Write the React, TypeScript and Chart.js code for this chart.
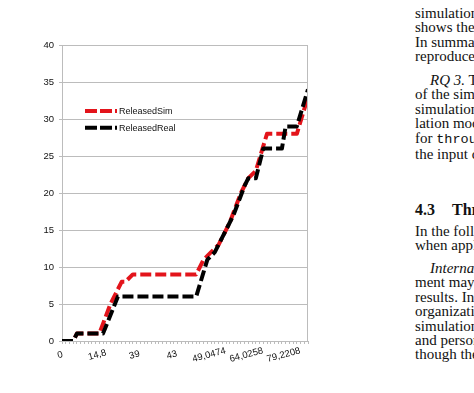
import React, { useEffect, useRef } from "react";
import { Chart, registerables } from "chart.js";

Chart.register(...registerables);

// ---- data ----
const xTickLabels = ["0", "14,8", "39", "43", "49,0474", "64,0258", "79,2208"];
const labelEvery = 10; // one label every 10 categories
const lastCategory = 66; // categories 0..66
const yMin = 0;
const yMax = 40;
const yStep = 5;

const simLabel = "ReleasedSim";
const simX = [0, 3, 4, 10, 13, 16, 17, 19, 36, 38, 40, 42, 45, 48, 50, 52, 55, 63, 66];
const simY = [0, 0, 1, 1, 5, 8, 8, 9, 9, 11, 12, 13, 16, 20, 22, 23, 28, 28, 33];

const realLabel = "ReleasedReal";
const realX = [0, 3, 4, 11, 15, 36, 39, 41, 43, 46, 49, 50, 52, 54, 59, 60, 63, 66];
const realY = [0, 0, 1, 1, 6, 6, 11, 12, 14, 17, 21, 22, 22, 26, 26, 29, 29, 34];

const textBlock1 = ["simulation results", "shows the same", "In summary,", "reproduce the"];
const textBlock2Rest = ["of the simulation", "simulation model", "lation model", "the input data"];
const textBlock3 = ["In the following", "when applying"];
const textBlock4Rest = ["ment may", "results. In", "organization", "simulation", "and personal", "though the"];

const RED = "#e3141b";
const BLACK = "#000000";
const GRID = "#bcbcbc";

const toPoints = (xs: number[], ys: number[]) => xs.map((x, i) => ({ x, y: ys[i] }));

const overlayPlugin = {
  id: "overlay",
  afterDraw(chart: any) {
    const { ctx, chartArea, scales } = chart;
    ctx.save();
    // right border of plot area
    ctx.strokeStyle = GRID;
    ctx.lineWidth = 1;
    ctx.setLineDash([]);
    const rx = Math.round(chartArea.right) - 0.5;
    ctx.beginPath();
    ctx.moveTo(rx, chartArea.top);
    ctx.lineTo(rx, chartArea.bottom);
    ctx.stroke();

    // slanted x labels, centred on their category
    ctx.fillStyle = "#111";
    ctx.font = "9.5px 'Liberation Sans', Arial, sans-serif";
    ctx.textAlign = "center";
    ctx.textBaseline = "middle";
    xTickLabels.forEach((lab, i) => {
      const px = scales.x.getPixelForValue(i * labelEvery);
      ctx.save();
      ctx.translate(px - 2, chartArea.bottom + 14);
      ctx.rotate((-15 * Math.PI) / 180);
      ctx.fillText(lab, 0, 0);
      ctx.restore();
    });

    // legend inside plot area
    const datasets = chart.data.datasets;
    datasets.forEach((ds: any, i: number) => {
      const y = chartArea.top + 66 + i * 16.7;
      const x0 = chartArea.left + 23;
      ctx.strokeStyle = ds.borderColor;
      ctx.lineWidth = 4;
      ctx.lineCap = "butt";
      ctx.setLineDash([12, 3]);
      ctx.beginPath();
      ctx.moveTo(x0, y);
      ctx.lineTo(x0 + 32, y);
      ctx.stroke();
      ctx.setLineDash([]);
      ctx.fillStyle = "#111";
      ctx.font = "9px 'Liberation Sans', Arial, sans-serif";
      ctx.textAlign = "left";
      ctx.textBaseline = "middle";
      ctx.fillText(ds.label, x0 + 34, y + 0.5);
    });
    ctx.restore();
  },
};

function ChartView() {
  const ref = useRef<HTMLCanvasElement | null>(null);
  useEffect(() => {
    if (!ref.current) return;
    const chart = new Chart(ref.current, {
      type: "line",
      data: {
        datasets: [
          {
            label: simLabel,
            data: toPoints(simX, simY),
            borderColor: RED,
            backgroundColor: RED,
            borderWidth: 4,
            borderDash: [11, 4],
            borderCapStyle: "butt",
            borderJoinStyle: "round",
            pointRadius: 0,
            tension: 0,
            fill: false,
            order: 1,
          },
          {
            label: realLabel,
            data: toPoints(realX, realY),
            borderColor: BLACK,
            backgroundColor: BLACK,
            borderWidth: 4,
            borderDash: [11, 4],
            borderCapStyle: "butt",
            borderJoinStyle: "round",
            pointRadius: 0,
            tension: 0,
            fill: false,
            order: 0,
          },
        ],
      },
      options: {
        animation: false,
        responsive: false,
        devicePixelRatio: 1,
        layout: { padding: { top: 45, right: 12, left: 0, bottom: 0 } },
        plugins: { legend: { display: false }, tooltip: { enabled: false } },
        scales: {
          x: {
            type: "linear",
            min: 0,
            max: lastCategory,
            afterFit: (s: any) => {
              s.height = 52;
            },
            ticks: { stepSize: 1, autoSkip: false, display: false },
            grid: { drawOnChartArea: false, drawTicks: true, tickLength: 3, color: GRID },
            border: { display: true, color: GRID, width: 1 },
          },
          y: {
            min: yMin,
            max: yMax,
            afterFit: (s: any) => {
              s.width = 62;
            },
            ticks: {
              stepSize: yStep,
              color: "#111",
              padding: 5,
              font: { family: "'Liberation Sans', Arial, sans-serif", size: 9.5 },
            },
            grid: { color: GRID, tickLength: 3, drawTicks: true },
            border: { display: true, color: GRID, width: 1 },
          },
        },
      },
      plugins: [overlayPlugin],
    } as any);
    return () => chart.destroy();
  }, []);
  return (
    <canvas
      ref={ref}
      width={320}
      height={393}
      style={{ position: "absolute", left: 0, top: 0, width: 320, height: 393 }}
    />
  );
}

const serif: React.CSSProperties = {
  fontFamily: "'Liberation Serif', 'Times New Roman', serif",
  fontSize: 15,
  lineHeight: "14.4px",
  color: "#111",
  whiteSpace: "nowrap",
};

export default function App() {
  return (
    <div style={{ position: "relative", width: 474, height: 393, overflow: "hidden", background: "#fff" }}>
      <style>{`body{margin:0;background:#fff}`}</style>
      <ChartView />
      <div style={{ ...serif, position: "absolute", left: 415, top: 6 }}>
        {textBlock1.map((t, i) => (
          <div key={i}>{t}</div>
        ))}
      </div>
      <div style={{ ...serif, position: "absolute", left: 415, top: 73 }}>
        <div style={{ paddingLeft: 15 }}>
          <i>RQ 3.</i> The
        </div>
        {textBlock2Rest.slice(0, 3).map((t, i) => (
          <div key={i}>{t}</div>
        ))}
        <div>
          for <span style={{ fontFamily: "'Liberation Mono', monospace", fontSize: 13.5 }}>throughput</span>
        </div>
        <div>{textBlock2Rest[3]}</div>
      </div>
      <div
        style={{
          ...serif,
          position: "absolute",
          left: 415,
          top: 200,
          fontSize: 16,
          fontWeight: "bold",
          lineHeight: "20px",
        }}
      >
        4.3<span style={{ display: "inline-block", width: 17 }} />Threats
      </div>
      <div style={{ ...serif, position: "absolute", left: 415, top: 224 }}>
        {textBlock3.map((t, i) => (
          <div key={i}>{t}</div>
        ))}
      </div>
      <div style={{ ...serif, position: "absolute", left: 415, top: 261 }}>
        <div style={{ paddingLeft: 15 }}>
          <i>Internal validity.</i>
        </div>
        {textBlock4Rest.map((t, i) => (
          <div key={i}>{t}</div>
        ))}
      </div>
    </div>
  );
}
